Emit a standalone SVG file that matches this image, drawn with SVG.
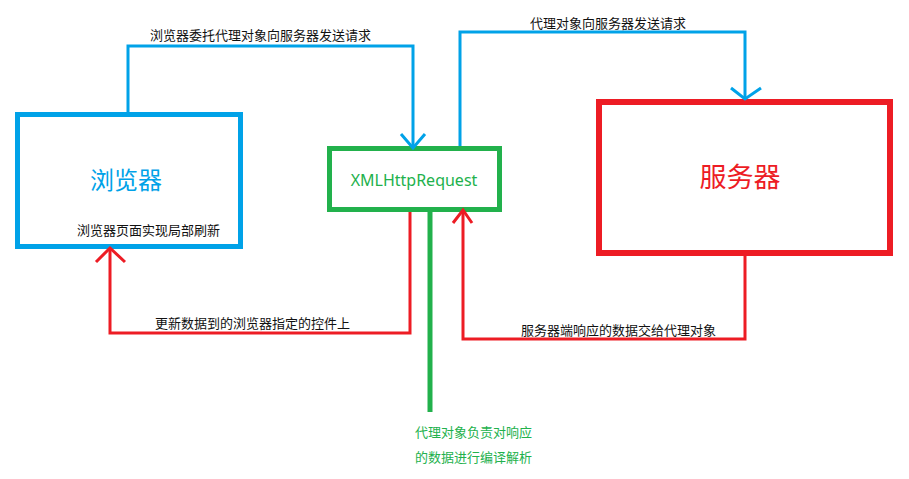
<svg xmlns="http://www.w3.org/2000/svg" width="909" height="479" viewBox="0 0 909 479">
<style>
.lbl{font-family:"Noto Sans CJK SC","Microsoft YaHei",sans-serif;font-size:13px;fill:#111}
.blue{stroke:#00a2e8;fill:none;stroke-width:3}
.red{stroke:#ed1c24;fill:none;stroke-width:3}
.green{stroke:#22b14c;fill:none;stroke-width:5}
</style>
<rect width="909" height="479" fill="#fff"/>
<g id="browser">
<rect x="17.5" y="114.5" width="223" height="132" fill="none" stroke="#00a2e8" stroke-width="5"/>
<text x="126" y="189" text-anchor="middle" font-family="Noto Sans CJK SC, sans-serif" font-size="24" fill="#00a2e8">浏览器</text>
<text x="77" y="235" class="lbl">浏览器页面实现局部刷新</text>
</g>
<g id="xhr">
<rect x="329.5" y="148.5" width="170" height="61" fill="none" stroke="#22b14c" stroke-width="5"/>
<text x="414" y="186" text-anchor="middle" font-family="Noto Sans, sans-serif" font-size="16" fill="#22b14c">XMLHttpRequest</text>
</g>
<g id="server">
<rect x="599" y="102" width="291" height="151" fill="none" stroke="#ed1c24" stroke-width="6"/>
<text x="740" y="187" text-anchor="middle" font-family="Noto Sans CJK SC, sans-serif" font-size="27" fill="#ed1c24">服务器</text>
</g>
<g id="connectors">
<polyline class="blue" points="128,112 128,46 413,46 413,148"/>
<polyline class="blue" points="401,134 413,148 425,134"/>
<polyline class="blue" points="460,146 460,32 745,32 745,99"/>
<polyline class="blue" points="731,88 745,99 761,88"/>
<polyline class="red" points="410,212 410,333 110,333 110,248"/>
<polyline class="red" points="96,262 110,248 125,262"/>
<polyline class="red" points="745,256 745,339 463,339 463,210"/>
<polyline class="red" points="453,223 463,210 472,223"/>
<line class="green" x1="430" y1="212" x2="430" y2="412"/>
</g>
<g id="labels">
<text x="150" y="40" class="lbl">浏览器委托代理对象向服务器发送请求</text>
<text x="530" y="28" class="lbl">代理对象向服务器发送请求</text>
<text x="155" y="328" class="lbl">更新数据到的浏览器指定的控件上</text>
<text x="521" y="335" class="lbl">服务器端响应的数据交给代理对象</text>
<text x="415" y="437" class="lbl" style="fill:#22b14c">代理对象负责对响应</text>
<text x="415" y="462" class="lbl" style="fill:#22b14c">的数据进行编译解析</text>
</g>
</svg>
